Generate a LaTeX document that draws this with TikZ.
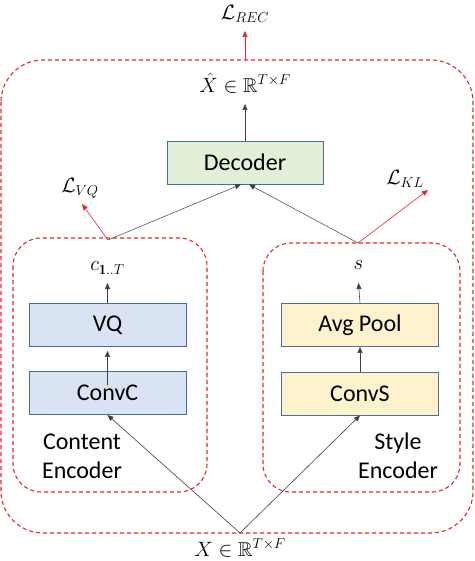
\documentclass[tikz,border=0pt]{standalone}
\usepackage{amssymb}
\usepackage{fontspec}
\newfontfamily\boxfont{Carlito}
\usetikzlibrary{arrows.meta}
\definecolor{redd}{HTML}{E8242B}
\definecolor{bord}{HTML}{41719C}
\definecolor{bluef}{HTML}{DAE3F3}
\definecolor{yelf}{HTML}{FFF2CC}
\definecolor{grnf}{HTML}{E2F0D9}
\tikzset{
  blk/.style={draw=bord, line width=0.9pt, minimum width=157pt, minimum height=43pt, inner sep=0pt, font=\boxfont\fontsize{24}{28}\selectfont},
  enc/.style={draw=redd, dashed, dash pattern=on 4pt off 3pt, line width=1.1pt, rounded corners=28pt},
  arr/.style={-{Triangle[length=6pt,width=5pt]}, line width=0.6pt, draw=black!75},
  rarr/.style={-{Triangle[length=6pt,width=5pt]}, line width=0.6pt, draw=redd},
  mth/.style={font=\fontsize{20}{24}\selectfont, inner sep=0pt},
  lbl/.style={font=\boxfont\fontsize{24}{29}\selectfont, align=center, inner sep=0pt}
}
\begin{document}
\begin{tikzpicture}[x=1pt,y=-1pt]
\useasboundingbox (0,0) rectangle (474,561);
% outer
\draw[enc, rounded corners=42pt] (1,60) rectangle (473,533);
\draw[enc] (13,238) rectangle (207,492);
\draw[enc] (263,243) rectangle (460,492);
% nodes
\node[blk, fill=grnf, minimum width=156pt] (dec) at (245,162.5) {Decoder};
\node[blk, fill=bluef] (vq) at (107.5,325) {VQ};
\node[blk, fill=bluef] (convc) at (107.5,393) {ConvC};
\node[blk, fill=yelf] (avg) at (360,325) {Avg Pool};
\node[blk, fill=yelf] (convs) at (360,393.5) {ConvS};
\node[mth] (xhat) at (245,83) {$\hat{X}\in\mathbb{R}^{T\times F}$};
\node[mth] (lrec) at (245,14) {$\mathcal{L}_{REC}$};
\node[mth] (lvq) at (80,188) {$\mathcal{L}_{VQ}$};
\node[mth] (lkl) at (405,179) {$\mathcal{L}_{KL}$};
\node[mth] (c) at (107.5,268) {$c_{\mathbf{1..}T}$};
\node[mth] (s) at (358.5,265) {$s$};
\node[mth] (x) at (240,548) {$X\in\mathbb{R}^{T\times F}$};
\node[lbl] (ce) at (82,456) {Content\\Encoder};
\node[lbl] (se) at (398,456) {Style\\Encoder};
\coordinate (cin) at (240,533);
\coordinate (ctop) at (108,240);
\coordinate (stop) at (358,243);
\coordinate (rtop) at (245,60);
% arrows
\draw[arr] (cin) -- (convc.south);
\draw[arr] (cin) -- (convs.south);
\draw[arr] ([yshift=-14pt]convc.north) -- ([yshift=-4pt]vq.south);
\draw[arr] (convs.north) -- (avg.south);
\draw[arr, line width=0.4pt] (vq.north) -- (107.5,283);
\draw[arr] (avg.north) -- (358.5,283);
\draw[arr, line width=0.5pt] (ctop) -- ([xshift=-4pt]dec.south);
\draw[arr, line width=0.5pt] (stop) -- ([xshift=4pt]dec.south);
\draw[rarr] (ctop) -- (82,204);
\draw[rarr] (stop) -- (428,190);
\draw[rarr] (rtop) -- (245,31);
\draw[arr] (dec.north) -- (245,104);
\end{tikzpicture}
\end{document}
